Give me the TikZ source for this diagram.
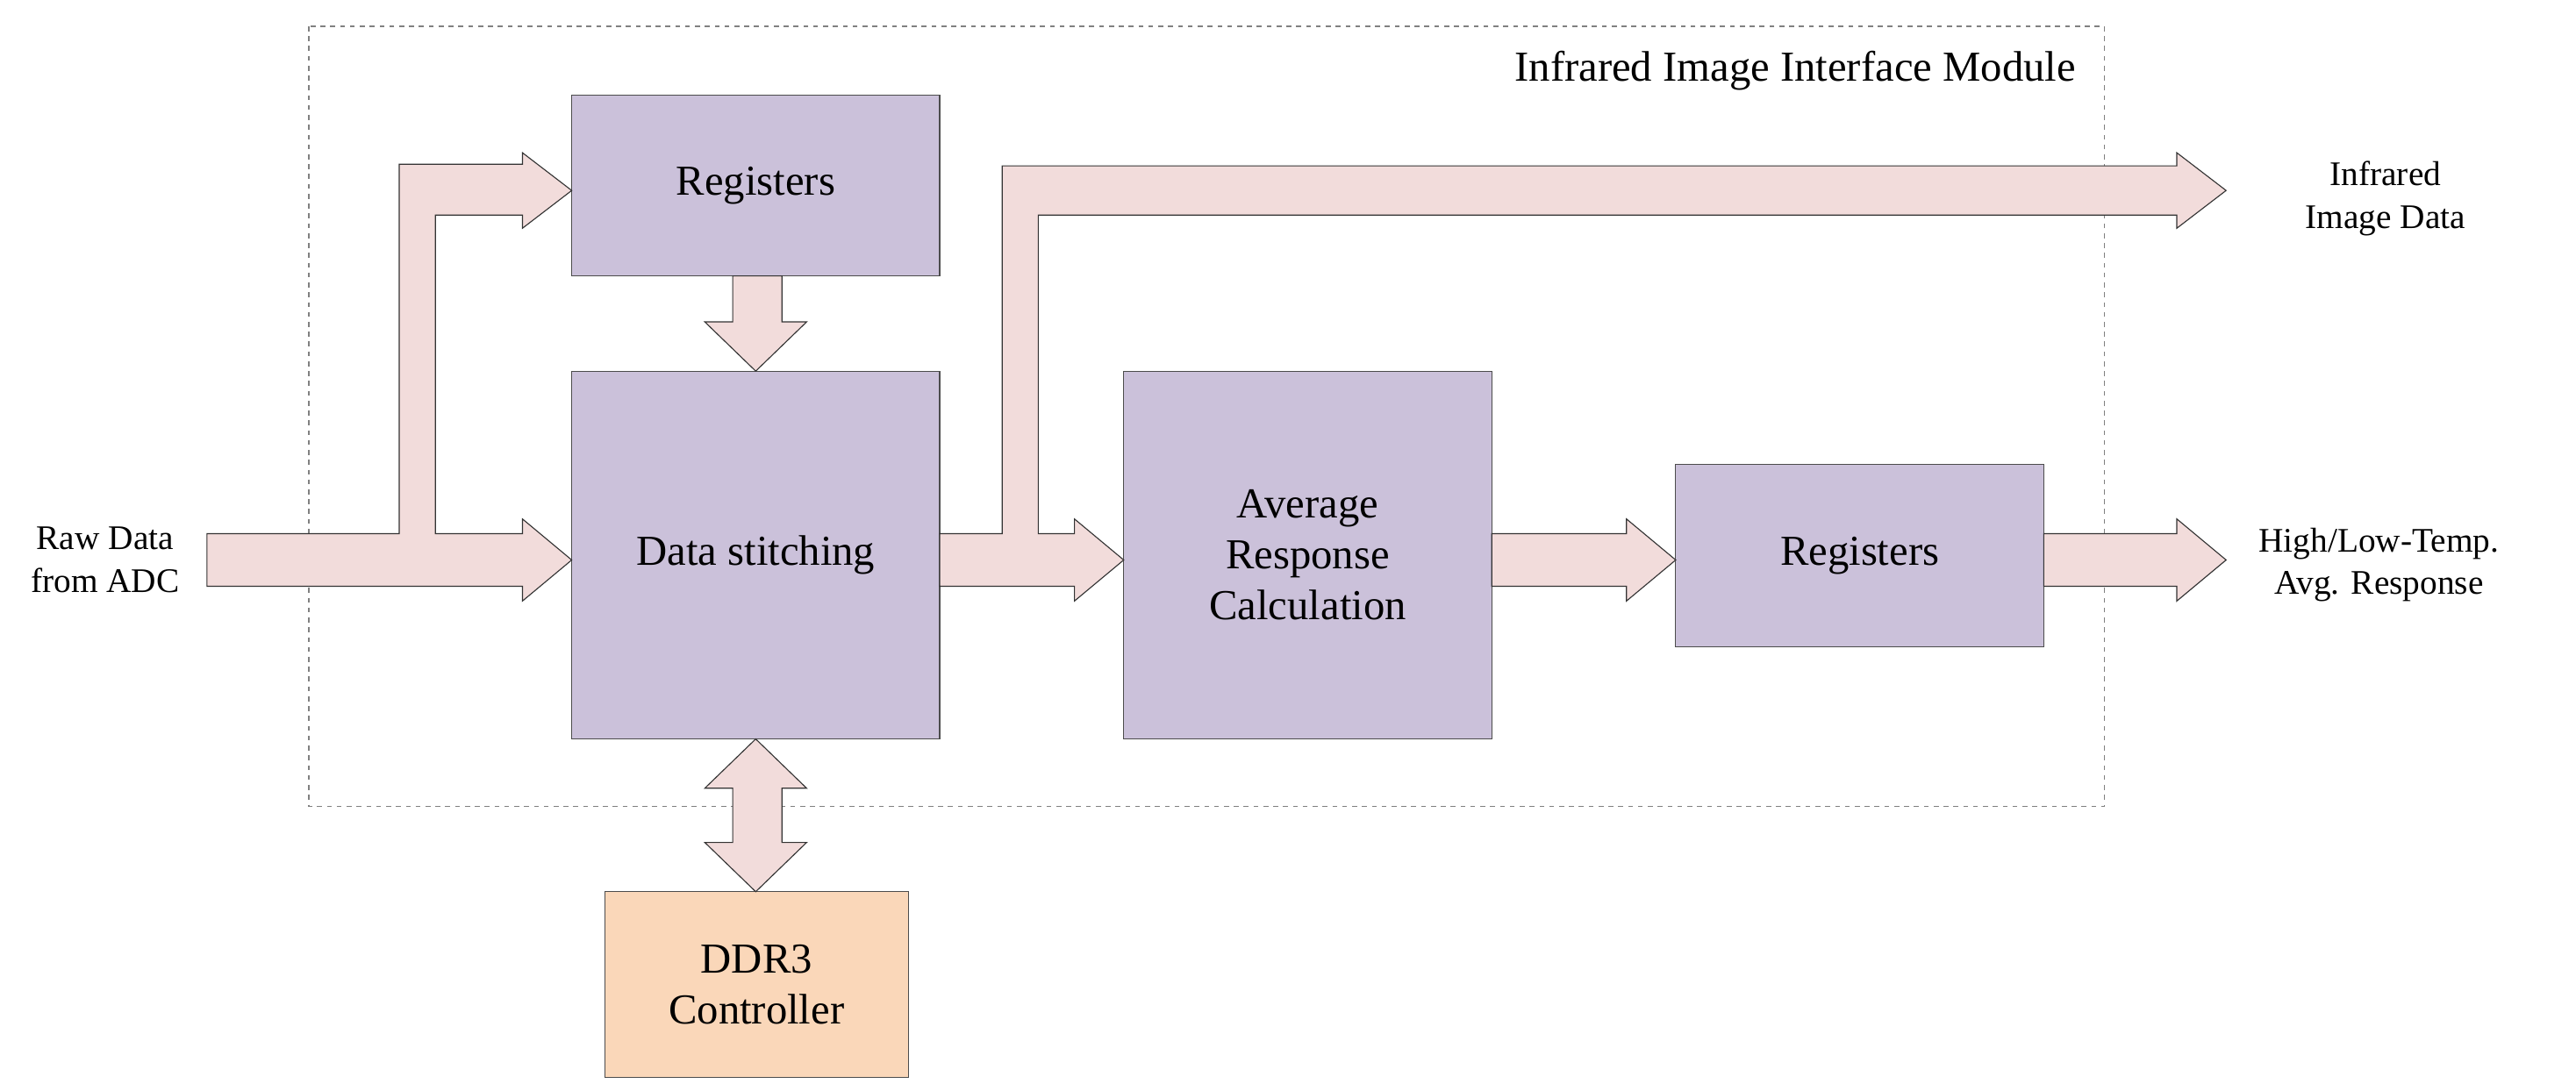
\documentclass[tikz,border=0pt]{standalone}
\usepackage{fontspec}
\setmainfont{Liberation Serif}
\begin{document}
\begin{tikzpicture}[x=1pt,y=-1pt,
  blk/.style={draw=black!70,line width=0.6pt,fill=purp,minimum width=224pt,align=center,font=\fontsize{26}{31}\selectfont},
  arr/.style={draw=black!80,line width=0.6pt,fill=pinkf,line join=miter},
  lbl/.style={align=center,font=\fontsize{21}{26}\selectfont}]
\definecolor{purp}{RGB}{203,193,218}
\definecolor{pinkf}{RGB}{242,220,219}
\definecolor{orng}{RGB}{250,215,185}
\useasboundingbox (0,0) rectangle (1568,664);
\draw[gray,dashed,line width=0.7pt] (188,16) rectangle (1281,491);
\node[anchor=east,font=\fontsize{26}{31}\selectfont] (title) at (1267,43) {Infrared Image Interface Module};
\node[blk,minimum height=110pt] (reg1) at (460,113) {Registers};
\node[blk,minimum height=224pt] (ds) at (460,338) {Data stitching};
\node[blk,minimum height=224pt] (avg) at (796,338) {Average\\Response\\Calculation};
\node[blk,minimum height=111pt] (reg2) at (1132,338.5) {Registers};
\node[blk,fill=orng,minimum width=185pt,minimum height=113pt] (ddr) at (460.5,599.5) {DDR3\\Controller};
\node[lbl] (raw) at (64,341) {Raw Data\\from ADC};
\node[lbl] (iid) at (1452,121) {Infrared\\Image Data};
\node[lbl] (hl) at (1448,344) {High/Low-Temp.\\Avg. Response};
% input arrow
\draw[arr] (126,325) -- (243,325) -- (243,100) -- (318,100) -- (318,93) -- (348,116) -- (318,139) -- (318,131) -- (265,131) -- (265,325) -- (318,325) -- (318,316) -- (348,341) -- (318,366) -- (318,357) -- (126,357) -- cycle;
% reg1 -> ds
\draw[arr] (446,168) -- (476,168) -- (476,196) -- (491,196) -- (460,226) -- (429,196) -- (446,196) -- cycle;
% ds output with branch
\draw[arr] (572,325) -- (610,325) -- (610,101) -- (1325,101) -- (1325,93) -- (1355,116) -- (1325,139) -- (1325,131) -- (632,131) -- (632,325) -- (654,325) -- (654,316) -- (684,341) -- (654,366) -- (654,357) -- (572,357) -- cycle;
% avg -> reg2
\draw[arr] (908,325) -- (990,325) -- (990,316) -- (1020,341) -- (990,366) -- (990,357) -- (908,357) -- cycle;
% reg2 -> out
\draw[arr] (1244,325) -- (1325,325) -- (1325,316) -- (1355,341) -- (1325,366) -- (1325,357) -- (1244,357) -- cycle;
% ds <-> ddr
\draw[arr] (460,450) -- (491,480) -- (476,480) -- (476,513) -- (491,513) -- (460,543) -- (429,513) -- (446,513) -- (446,480) -- (429,480) -- cycle;
\end{tikzpicture}
\end{document}
